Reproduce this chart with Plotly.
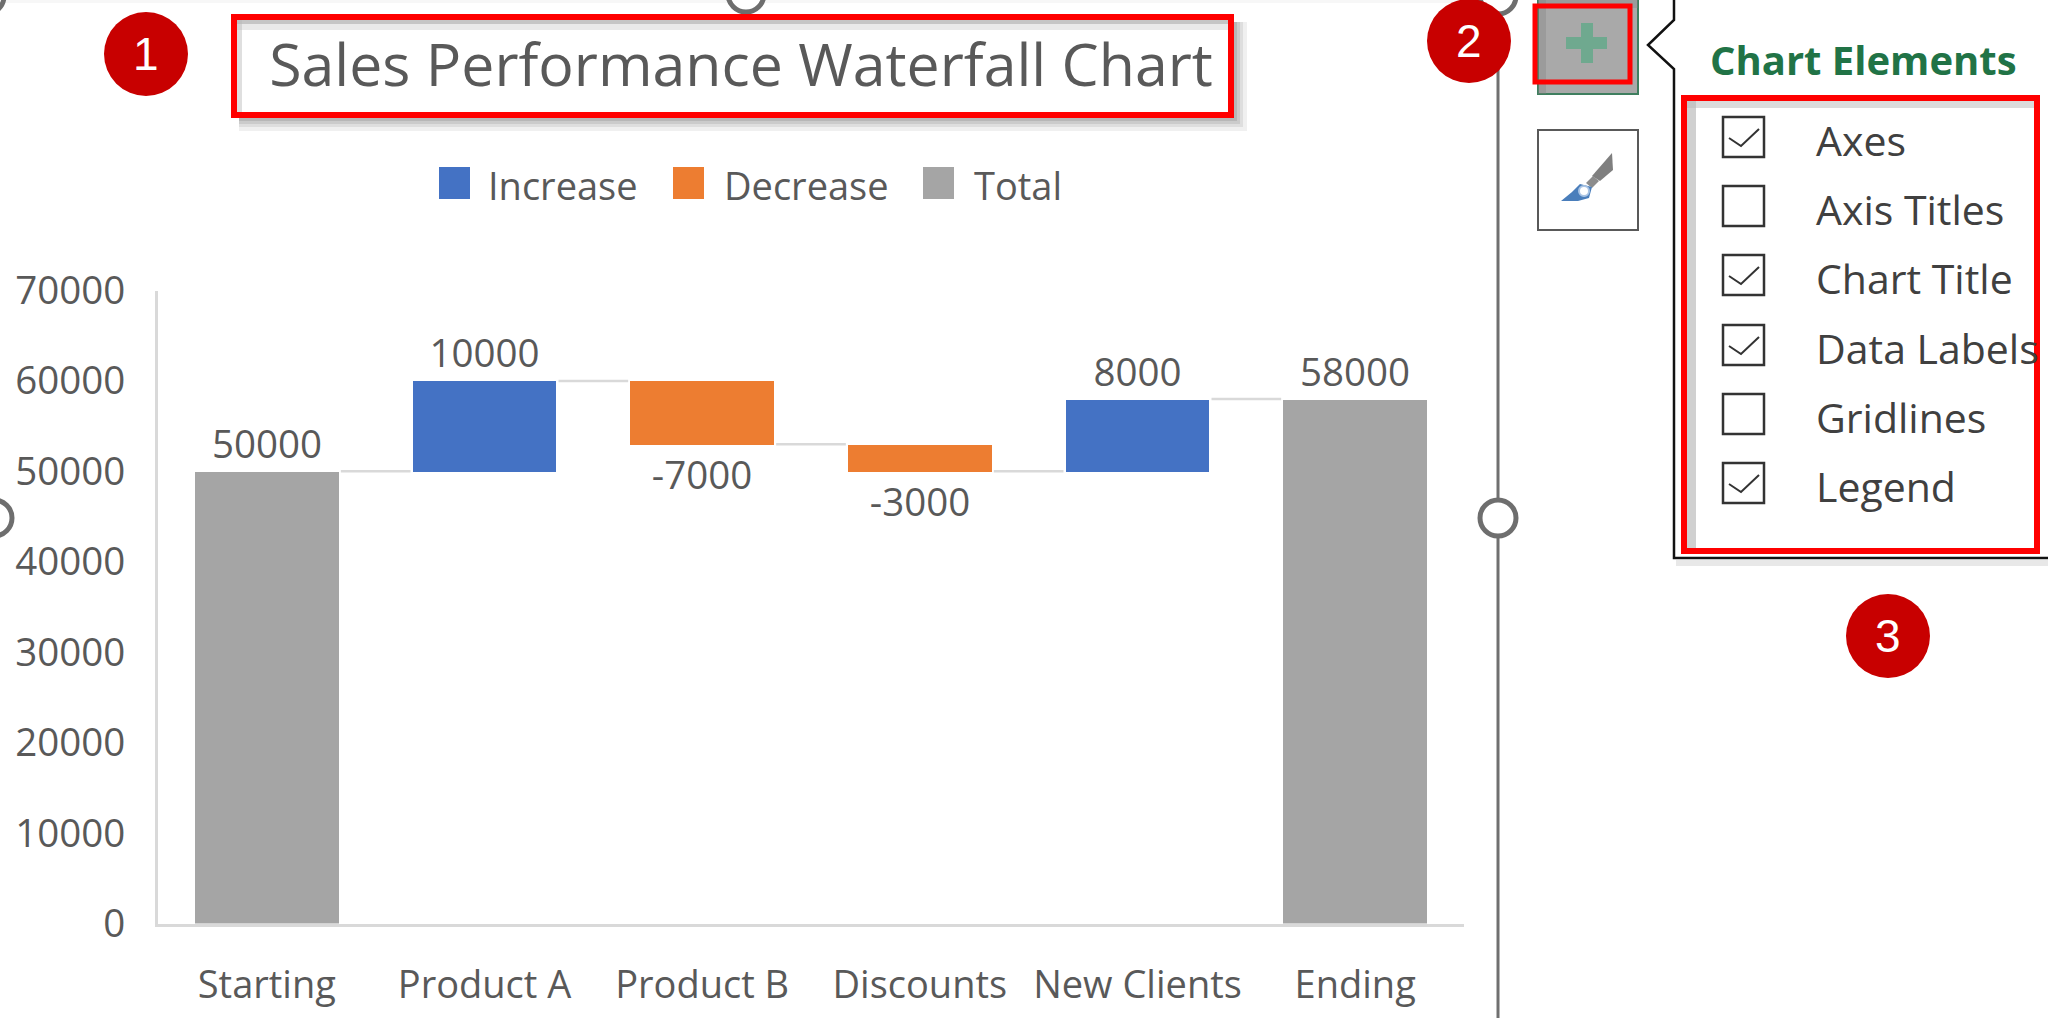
import plotly.graph_objects as go

# ---------- chart data ----------
categories = ["Starting", "Product A", "Product B", "Discounts", "New Clients", "Ending"]
increase = [None, 10000, None, None, 8000, None]
increase_base = [None, 50000, None, None, 50000, None]
decrease = [None, None, -7000, -3000, None, None]
decrease_base = [None, None, 60000, 53000, None, None]
total = [50000, None, None, None, None, 58000]
connector_levels = [50000, 60000, 53000, 50000, 58000]
y_ticks = [0, 10000, 20000, 30000, 40000, 50000, 60000, 70000]
panel_items = ["Axes", "Axis Titles", "Chart Title", "Data Labels", "Gridlines", "Legend"]
panel_checked = [True, False, True, True, False, True]

W, H = 2048, 1018
BLUE, ORANGE, GREY, TXT = "#4472C4", "#ED7D31", "#A5A5A5", "#595959"
FONT = "Open Sans"


def X(p):
    return p / W


def Y(p):
    return 1 - p / H


def labels(vals):
    return ["" if v is None else str(v) for v in vals]


x = list(range(len(categories)))
fig = go.Figure()
for name, vals, base, col in [
    ("Increase", increase, increase_base, BLUE),
    ("Decrease", decrease, decrease_base, ORANGE),
    ("Total", total, None, GREY),
]:
    fig.add_trace(go.Bar(name=name, x=x, y=vals, base=base, marker=dict(color=col, line=dict(width=0)),
                         width=0.66, text=labels(vals), textposition="outside", cliponaxis=False,
                         textangle=0, constraintext="none",
                         textfont=dict(family=FONT, size=38.5, color=TXT), showlegend=False))
cx, cy = [], []
for i, lv in enumerate(connector_levels):
    cx += [i + 0.34, i + 0.66, None]
    cy += [lv, lv, None]
fig.add_trace(go.Scatter(x=cx, y=cy, mode="lines", line=dict(color="#D9D9D9", width=2.5),
                         showlegend=False, hoverinfo="skip"))

shapes, ann = [], []


def rect(x0, y0, x1, y1, line=None, lw=0, fill=None, opacity=1):
    shapes.append(dict(type="rect", xref="paper", yref="paper", x0=X(x0), x1=X(x1), y0=Y(y0), y1=Y(y1),
                       line=dict(color=line or "rgba(0,0,0,0)", width=lw), fillcolor=fill or "rgba(0,0,0,0)",
                       opacity=opacity))


def circle(cx_, cy_, r, line=None, lw=0, fill=None):
    shapes.append(dict(type="circle", xref="paper", yref="paper", x0=X(cx_ - r), x1=X(cx_ + r), y0=Y(cy_ - r),
                       y1=Y(cy_ + r), line=dict(color=line or "rgba(0,0,0,0)", width=lw),
                       fillcolor=fill or "rgba(0,0,0,0)"))


def poly(pts, line=None, lw=0, fill=None, close=False):
    d = "M" + " L".join(f"{X(a):.5f},{Y(b):.5f}" for a, b in pts) + (" Z" if close else "")
    shapes.append(dict(type="path", xref="paper", yref="paper", path=d,
                       line=dict(color=line or "rgba(0,0,0,0)", width=lw), fillcolor=fill or "rgba(0,0,0,0)"))


def text(t, x_, y_, size, color=TXT, anchor="left", family=FONT):
    ann.append(dict(text=t, xref="paper", yref="paper", x=X(x_), y=Y(y_), xanchor=anchor, yanchor="middle",
                    showarrow=False, font=dict(family=family, size=size, color=color)))


def shadowed(x0, y0, x1, y1):
    for k, op in [(16, .12), (12, .16), (9, .20), (6, .26)]:
        rect(x0 + 5, y0 + 5, x1 + k, y1 + k, fill="#808080", opacity=op)
    rect(x0, y0, x1, y1, fill="white")
    rect(x0, y0, x1, y0 + 13, fill="#c8c8c8", opacity=.4)
    rect(x0, y0, x1, y0 + 7, fill="#a8a8a8", opacity=.55)
    rect(x0, y0, x0 + 8, y1, fill="#b8b8b8", opacity=.45)
    rect(x0, y0, x1, y1, line="#FF0000", lw=6)


# top strip and selection frame
rect(0, 0, 1498, 3, fill="#F7F7F7")
poly([(1498, 0), (1498, H)], line="#707070", lw=3)
for cx_, cy_ in [(-14, -4), (746, -6), (1498, -4), (-6, 518), (1498, 518)]:
    circle(cx_, cy_, 18, line="#6E6E6E", lw=5, fill="white")

# title call-out
shadowed(234, 17, 1231, 115)

# legend swatches and text
for sx, col, t, tx in [(439, BLUE, "Increase", 486), (673, ORANGE, "Decrease", 722), (923, GREY, "Total", 972)]:
    rect(sx, 167, sx + 31, 199, fill=col)
    text(t, tx, 185, 38, TXT)

# numbered badges
for n, cx_, cy_ in [("1", 146, 54), ("2", 1469, 41), ("3", 1888, 636)]:
    circle(cx_, cy_, 42, fill="#C80000")
    text(n, cx_, cy_, 46, "white", "center", "Liberation Sans")

# plus button
rect(1538, -4, 1638, 94, line="#3F7F5F", lw=2, fill="#A9A9A9")
rect(1538, 0, 1546, 94, fill="#808080", opacity=.35)
rect(1538, 0, 1638, 8, fill="#808080", opacity=.35)
rect(1566, 37, 1607, 49, fill="#6FA98F")
rect(1581, 23, 1593, 63, fill="#6FA98F")
rect(1535, 6, 1630, 82, line="#FF0000", lw=5)

# brush button
rect(1538, 130, 1638, 230, line="#595959", lw=2, fill="white")
poly([(1612, 153), (1613, 170), (1600, 181), (1592, 176)], fill="#7F7F7F", close=True)
poly([(1593, 176), (1599, 181), (1592, 188), (1586, 183)], fill="#8C8C8C", close=True)
poly([(1561, 201), (1572, 192), (1580, 184), (1592, 187), (1589, 198), (1578, 201)], fill="#4A7EBB", close=True)
circle(1584, 191, 5, line="#A9C4E4", lw=2, fill="white")

# panel outline
poly([(1674, 0), (1674, 20), (1648, 45), (1674, 69), (1674, 558), (2048, 558)], line="#111111", lw=2.5)
rect(1676, 560, 2048, 566, fill="#D8D8D8", opacity=.6)
text("Chart Elements", 1708, 60, 40, "#217346")
ann[-1]["font"]["weight"] = "bold"

rect(1684, 98, 2037, 551, fill="white")
rect(1684, 98, 1696, 551, fill="#B0B0B0", opacity=.6)
rect(1684, 98, 2037, 108, fill="#B8B8B8", opacity=.5)
rect(1684, 98, 2037, 551, line="#FF0000", lw=6)

box_tops = [117, 186, 255, 325, 394, 463]
for item, chk, top in zip(panel_items, panel_checked, box_tops):
    rect(1723, top, 1764, top + 40, line="#333333", lw=2.5, fill="white")
    if chk:
        poly([(1729, top + 21), (1741, top + 29), (1759, top + 12)], line="#333333", lw=2)
    text(item, 1814, top + 23, 41, "#404040")

fig.update_layout(
    width=W, height=H, autosize=False,
    margin=dict(l=0, r=0, t=0, b=0, pad=0), paper_bgcolor="white", plot_bgcolor="white",
    barmode="overlay", bargap=0,
    title=dict(text="Sales Performance Waterfall Chart", xref="paper", yref="paper", x=741 / W, xanchor="center",
               y=Y(65), yanchor="middle", font=dict(family=FONT, size=59, color=TXT)),
    xaxis=dict(domain=[X(158), X(1464)], range=[-0.5, 5.5], tickvals=x, ticktext=categories, showgrid=False,
               zeroline=False, showline=True, linecolor="#D9D9D9", linewidth=3, ticks="", automargin=False,
               tickfont=dict(family=FONT, size=38, color=TXT), ticklabelstandoff=26),
    yaxis=dict(domain=[Y(923.5), Y(290.5)], range=[0, 70000], tickvals=y_ticks, showgrid=False, zeroline=False,
               showline=True, linecolor="#D9D9D9", linewidth=3, ticks="", tickformat="d", automargin=False,
               tickfont=dict(family=FONT, size=38.5, color=TXT), ticklabelstandoff=22),
    shapes=shapes, annotations=ann, showlegend=False,
)

fig.write_html("out.html", config=dict(displayModeBar=False),
               post_script="document.body.style.margin='0';document.body.style.overflow='hidden';")
